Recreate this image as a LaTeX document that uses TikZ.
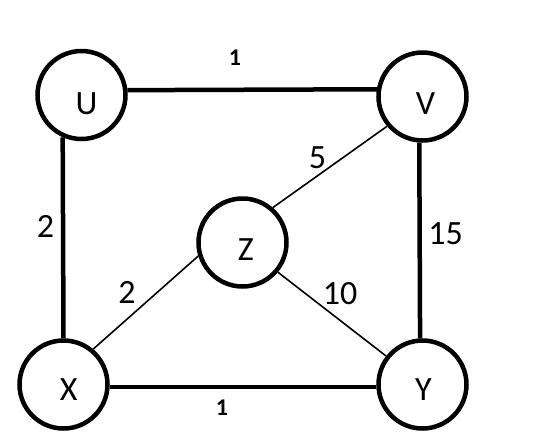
\documentclass[tikz,border=0pt]{standalone}
\usepackage{fontspec}
\setmainfont{Carlito}
\begin{document}
\begin{tikzpicture}[x=1pt,y=-1pt,
  vertex/.style={circle,draw=black,line width=4.5pt,minimum size=88pt,inner sep=0pt,fill=white},
  vlabel/.style={inner sep=0pt,font=\fontsize{34}{40}\selectfont},
  wlabel/.style={inner sep=0pt,font=\fontsize{34}{40}\selectfont},
  smalllabel/.style={inner sep=0pt,font=\fontsize{24}{29}\selectfont\bfseries},
  heavy/.style={line width=4.5pt},
  light/.style={line width=1.6pt}]
\useasboundingbox (0,0) rectangle (542,448);
% vertices
\node[vertex] (U) at (81.5,95) {};
\node[vertex] (V) at (422.5,96.5) {};
\node[vertex] (X) at (63.5,384.5) {};
\node[vertex] (Y) at (422.5,384.5) {};
\node[vertex] (Z) at (242.5,242.5) {};
% vertex letters
\node[vlabel] (tU) at (86.5,103.5) {U};
\node[vlabel] (tV) at (425.5,104) {V};
\node[vlabel] (tX) at (68.7,390) {X};
\node[vlabel] (tY) at (423.3,390) {Y};
\node[vlabel] (tZ) at (245.8,250) {Z};
% edges
\draw[heavy] (U.6.5) -- (V.171.5);
\draw[heavy] (U.246.3) -- (X.90.6);
\draw[heavy] (V.266.9) -- (Y.93.1);
\draw[heavy] (X.-3.7) -- (Y.183.7);
\draw[light] (V.220.9) -- (Z.49.3);
\draw[light] (X.50.7) -- (Z.197);
\draw[light] (Z.-40.7) -- (Y.142.5);
% weights
\node[smalllabel] (wUV) at (235,57.5) {1};
\node[smalllabel] (wXY) at (222,407.5) {1};
\node[wlabel] (wUX) at (45.5,226) {2};
\node[wlabel] (wVY) at (445.5,234) {15};
\node[wlabel] (wVZ) at (317.5,157.5) {5};
\node[wlabel] (wXZ) at (127,292) {2};
\node[wlabel] (wZY) at (340,294) {10};
\end{tikzpicture}
\end{document}
